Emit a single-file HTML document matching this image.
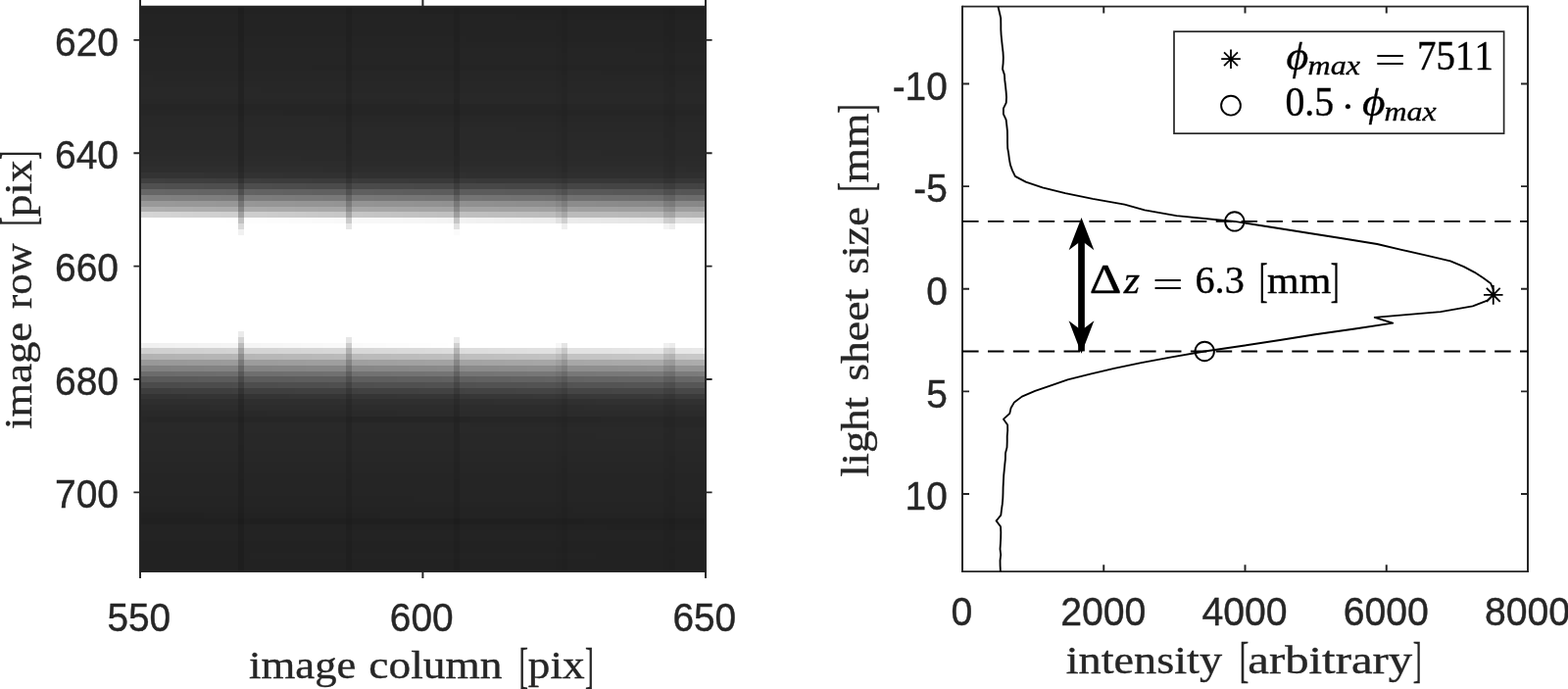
<!DOCTYPE html>
<html lang="en"><head><meta charset="utf-8"><title>Light sheet profile</title>
<style>
html,body{margin:0;padding:0;background:#fff;}
body{width:1600px;height:703px;overflow:hidden;}
svg{display:block;}
.tk{font-family:"Liberation Sans",sans-serif;font-size:40.6px;fill:#262626;stroke:#262626;stroke-width:0.4px;}
.lb{font-family:"Liberation Serif",serif;font-size:42px;fill:#262626;}
.mt{font-family:"Liberation Serif",serif;font-size:41px;fill:#000;}
.it{font-style:italic;}
</style></head><body>
<svg width="1600" height="703" viewBox="0 0 1600 703" role="img" aria-label="Light sheet image and intensity profile">
<rect width="1600" height="703" fill="#fff"/>
<g shape-rendering="crispEdges">
<path fill="#1c1c1c" d="M243 529h6v6h-6zM463 529h6v6h-6z"/>
<path fill="#1d1d1d" d="M243 6h6v2h-6zM353 529h6v6h-6z"/>
<path fill="#1e1e1e" d="M353 6h6v2h-6zM463 6h6v2h-6zM243 8h6v6h-6zM243 523h6v6h-6zM573 529h6v6h-6zM683 529h6v6h-6zM243 552h6v6h-6zM243 558h6v6h-6zM243 564h6v6h-6zM243 570h6v5h-6zM243 575h6v6h-6zM243 581h6v3h-6z"/>
<path fill="#1f1f1f" d="M573 6h6v2h-6zM677 6h12v2h-12zM353 8h6v6h-6zM463 8h6v6h-6zM573 8h6v6h-6zM683 8h6v6h-6zM243 14h6v6h-6zM243 20h6v5h-6zM243 25h6v6h-6zM243 31h6v6h-6zM243 37h6v6h-6zM243 517h6v6h-6zM353 523h6v6h-6zM255 529h98v6h-98zM359 529h104v6h-104zM469 529h104v6h-104zM579 529h17v6h-17zM677 529h6v6h-6zM243 535h6v6h-6zM353 535h6v6h-6zM463 535h6v6h-6zM683 535h6v6h-6zM243 541h6v5h-6zM243 546h6v6h-6zM353 552h6v6h-6zM463 552h6v6h-6zM353 558h6v6h-6zM463 558h6v6h-6zM353 564h6v6h-6zM353 570h6v5h-6zM463 570h6v5h-6zM353 575h6v6h-6zM463 575h6v6h-6zM353 581h6v3h-6zM463 581h6v3h-6z"/>
<path fill="#202020" d="M289 6h64v2h-64zM359 6h104v2h-104zM469 6h104v2h-104zM579 6h98v2h-98zM689 6h32v2h-32zM677 8h6v6h-6zM353 14h6v6h-6zM463 14h6v6h-6zM573 14h6v6h-6zM683 14h6v6h-6zM353 20h6v5h-6zM463 20h6v5h-6zM353 25h6v6h-6zM463 25h6v6h-6zM353 31h6v6h-6zM463 31h6v6h-6zM353 37h6v6h-6zM463 37h6v6h-6zM243 43h6v6h-6zM243 49h6v5h-6zM243 54h6v6h-6zM243 60h6v6h-6zM243 66h6v6h-6zM243 106h6v6h-6zM243 489h6v5h-6zM243 494h6v6h-6zM243 500h6v6h-6zM243 506h6v6h-6zM243 512h6v5h-6zM353 517h6v6h-6zM463 517h6v6h-6zM463 523h6v6h-6zM142 529h101v6h-101zM249 529h6v6h-6zM596 529h81v6h-81zM689 529h32v6h-32zM573 535h6v6h-6zM677 535h6v6h-6zM353 541h6v5h-6zM463 541h6v5h-6zM353 546h6v6h-6zM463 546h6v6h-6zM573 552h6v6h-6zM573 558h6v6h-6zM683 558h6v6h-6zM463 564h6v6h-6zM573 570h6v5h-6zM683 570h6v5h-6zM573 575h6v6h-6zM683 575h6v6h-6zM573 581h6v3h-6zM683 581h6v3h-6z"/>
<path fill="#212121" d="M142 6h101v2h-101zM249 6h40v2h-40zM428 8h35v6h-35zM469 8h104v6h-104zM579 8h98v6h-98zM689 8h32v6h-32zM677 14h6v6h-6zM573 20h6v5h-6zM677 20h12v5h-12zM573 25h6v6h-6zM677 25h12v6h-12zM573 31h6v6h-6zM677 31h12v6h-12zM573 37h6v6h-6zM683 37h6v6h-6zM353 43h6v6h-6zM463 43h6v6h-6zM353 49h6v5h-6zM463 49h6v5h-6zM353 54h6v6h-6zM463 54h6v6h-6zM353 60h6v6h-6zM463 60h6v6h-6zM353 66h6v6h-6zM463 66h6v6h-6zM243 72h6v5h-6zM243 77h6v6h-6zM353 106h6v6h-6zM243 112h6v6h-6zM463 112h6v6h-6zM243 425h6v6h-6zM243 471h6v6h-6zM243 477h6v6h-6zM243 483h6v6h-6zM353 489h6v5h-6zM463 489h6v5h-6zM353 494h6v6h-6zM463 494h6v6h-6zM353 500h6v6h-6zM463 500h6v6h-6zM353 506h6v6h-6zM463 506h6v6h-6zM353 512h6v5h-6zM463 512h6v5h-6zM573 517h6v6h-6zM142 523h66v6h-66zM573 523h6v6h-6zM677 523h12v6h-12zM567 535h6v6h-6zM619 535h58v6h-58zM689 535h32v6h-32zM573 541h6v5h-6zM677 541h12v5h-12zM573 546h6v6h-6zM677 546h12v6h-12zM677 552h12v6h-12zM567 558h6v6h-6zM677 558h6v6h-6zM573 564h6v6h-6zM677 564h12v6h-12zM567 570h6v5h-6zM677 570h6v5h-6zM567 575h6v6h-6zM677 575h6v6h-6zM677 581h6v3h-6z"/>
<path fill="#222222" d="M142 8h101v6h-101zM249 8h104v6h-104zM359 8h69v6h-69zM527 14h46v6h-46zM579 14h98v6h-98zM689 14h32v6h-32zM567 20h6v5h-6zM567 25h6v6h-6zM567 31h6v6h-6zM677 37h6v6h-6zM573 43h6v6h-6zM677 43h12v6h-12zM573 49h6v5h-6zM683 49h6v5h-6zM573 66h6v6h-6zM683 66h6v6h-6zM353 72h6v5h-6zM463 72h6v5h-6zM353 77h6v6h-6zM463 77h6v6h-6zM243 83h6v6h-6zM243 89h6v6h-6zM243 95h6v6h-6zM243 101h6v5h-6zM463 106h6v6h-6zM353 112h6v6h-6zM243 118h6v6h-6zM353 425h6v6h-6zM463 425h6v6h-6zM243 454h6v6h-6zM243 460h6v5h-6zM243 465h6v6h-6zM353 471h6v6h-6zM463 471h6v6h-6zM353 477h6v6h-6zM463 477h6v6h-6zM353 483h6v6h-6zM463 483h6v6h-6zM573 500h6v6h-6zM573 506h6v6h-6zM683 506h6v6h-6zM573 512h6v5h-6zM683 512h6v5h-6zM677 517h12v6h-12zM208 523h35v6h-35zM249 523h104v6h-104zM359 523h29v6h-29zM567 523h6v6h-6zM359 535h104v6h-104zM469 535h98v6h-98zM579 535h40v6h-40zM567 541h6v5h-6zM567 546h6v6h-6zM142 552h101v6h-101zM249 552h104v6h-104zM359 552h104v6h-104zM469 552h104v6h-104zM579 552h98v6h-98zM689 552h32v6h-32zM142 558h101v6h-101zM249 558h104v6h-104zM359 558h104v6h-104zM469 558h98v6h-98zM579 558h98v6h-98zM689 558h32v6h-32zM142 564h101v6h-101zM249 564h6v6h-6zM567 564h6v6h-6zM608 564h69v6h-69zM689 564h32v6h-32zM142 570h101v5h-101zM249 570h104v5h-104zM359 570h104v5h-104zM469 570h98v5h-98zM579 570h98v5h-98zM689 570h32v5h-32zM142 575h101v6h-101zM249 575h104v6h-104zM359 575h104v6h-104zM469 575h98v6h-98zM579 575h98v6h-98zM689 575h32v6h-32zM142 581h101v3h-101zM249 581h104v3h-104zM359 581h104v3h-104zM469 581h104v3h-104zM579 581h98v3h-98zM689 581h32v3h-32z"/>
<path fill="#232323" d="M142 14h101v6h-101zM249 14h104v6h-104zM359 14h104v6h-104zM469 14h58v6h-58zM142 20h101v5h-101zM249 20h104v5h-104zM359 20h104v5h-104zM469 20h98v5h-98zM579 20h98v5h-98zM689 20h32v5h-32zM142 25h101v6h-101zM249 25h104v6h-104zM359 25h104v6h-104zM469 25h98v6h-98zM579 25h98v6h-98zM689 25h32v6h-32zM142 31h101v6h-101zM249 31h104v6h-104zM359 31h104v6h-104zM469 31h98v6h-98zM579 31h98v6h-98zM689 31h32v6h-32zM475 37h98v6h-98zM579 37h98v6h-98zM689 37h32v6h-32zM567 43h6v6h-6zM677 49h6v5h-6zM573 54h6v6h-6zM677 54h12v6h-12zM573 60h6v6h-6zM677 60h12v6h-12zM567 66h6v6h-6zM677 66h6v6h-6zM573 72h6v5h-6zM683 72h6v5h-6zM353 83h6v6h-6zM463 83h6v6h-6zM353 89h6v6h-6zM463 89h6v6h-6zM353 101h6v5h-6zM463 101h6v5h-6zM573 106h6v6h-6zM573 112h6v6h-6zM677 112h12v6h-12zM353 118h6v6h-6zM463 118h6v6h-6zM243 124h6v6h-6zM243 130h6v5h-6zM243 135h6v6h-6zM243 141h6v6h-6zM243 147h6v6h-6zM243 431h6v5h-6zM243 436h6v6h-6zM243 442h6v6h-6zM243 448h6v6h-6zM353 460h6v5h-6zM463 460h6v5h-6zM353 465h6v6h-6zM463 465h6v6h-6zM573 477h6v6h-6zM573 483h6v6h-6zM683 483h6v6h-6zM573 489h6v5h-6zM677 489h12v5h-12zM573 494h6v6h-6zM677 494h12v6h-12zM677 500h12v6h-12zM677 506h6v6h-6zM567 512h6v5h-6zM677 512h6v5h-6zM142 517h101v6h-101zM249 517h104v6h-104zM359 517h104v6h-104zM469 517h104v6h-104zM579 517h6v6h-6zM388 523h75v6h-75zM469 523h98v6h-98zM579 523h98v6h-98zM689 523h32v6h-32zM142 535h101v6h-101zM249 535h104v6h-104zM142 541h101v5h-101zM249 541h104v5h-104zM359 541h104v5h-104zM469 541h98v5h-98zM579 541h98v5h-98zM689 541h32v5h-32zM142 546h101v6h-101zM249 546h104v6h-104zM359 546h104v6h-104zM469 546h98v6h-98zM579 546h98v6h-98zM689 546h32v6h-32zM255 564h98v6h-98zM359 564h104v6h-104zM469 564h98v6h-98zM579 564h29v6h-29z"/>
<path fill="#242424" d="M142 37h101v6h-101zM249 37h104v6h-104zM359 37h104v6h-104zM469 37h6v6h-6zM142 43h101v6h-101zM249 43h104v6h-104zM359 43h104v6h-104zM469 43h98v6h-98zM579 43h98v6h-98zM689 43h32v6h-32zM567 49h6v5h-6zM648 49h29v5h-29zM689 49h32v5h-32zM567 54h6v6h-6zM567 60h6v6h-6zM318 66h35v6h-35zM359 66h104v6h-104zM469 66h98v6h-98zM579 66h98v6h-98zM689 66h32v6h-32zM677 72h6v5h-6zM573 77h6v6h-6zM677 77h12v6h-12zM573 83h6v6h-6zM683 83h6v6h-6zM353 95h6v6h-6zM463 95h6v6h-6zM677 106h12v6h-12zM567 112h6v6h-6zM573 118h6v6h-6zM683 118h6v6h-6zM353 124h6v6h-6zM463 124h6v6h-6zM353 130h6v5h-6zM463 130h6v5h-6zM353 135h6v6h-6zM463 135h6v6h-6zM353 141h6v6h-6zM463 141h6v6h-6zM463 147h6v6h-6zM243 153h6v6h-6zM243 159h6v5h-6zM243 419h6v6h-6zM573 425h6v6h-6zM353 431h6v5h-6zM463 431h6v5h-6zM353 436h6v6h-6zM463 436h6v6h-6zM353 442h6v6h-6zM463 442h6v6h-6zM353 448h6v6h-6zM463 448h6v6h-6zM353 454h6v6h-6zM463 454h6v6h-6zM573 465h6v6h-6zM683 465h6v6h-6zM573 471h6v6h-6zM683 471h6v6h-6zM677 477h12v6h-12zM567 483h6v6h-6zM677 483h6v6h-6zM567 489h6v5h-6zM567 494h6v6h-6zM567 500h6v6h-6zM142 506h101v6h-101zM249 506h104v6h-104zM359 506h63v6h-63zM567 506h6v6h-6zM142 512h101v5h-101zM249 512h104v5h-104zM359 512h104v5h-104zM469 512h98v5h-98zM579 512h98v5h-98zM689 512h32v5h-32zM585 517h92v6h-92zM689 517h32v6h-32z"/>
<path fill="#252525" d="M142 49h101v5h-101zM249 49h104v5h-104zM359 49h104v5h-104zM469 49h98v5h-98zM579 49h69v5h-69zM142 54h101v6h-101zM249 54h104v6h-104zM359 54h104v6h-104zM469 54h98v6h-98zM579 54h98v6h-98zM689 54h32v6h-32zM142 60h101v6h-101zM249 60h104v6h-104zM359 60h104v6h-104zM469 60h98v6h-98zM579 60h98v6h-98zM689 60h32v6h-32zM142 66h101v6h-101zM249 66h69v6h-69zM567 72h6v5h-6zM613 72h64v5h-64zM689 72h32v5h-32zM567 77h6v6h-6zM677 83h6v6h-6zM573 89h6v6h-6zM677 89h12v6h-12zM573 95h6v6h-6zM683 95h6v6h-6zM573 101h6v5h-6zM683 101h6v5h-6zM142 106h101v6h-101zM249 106h104v6h-104zM359 106h104v6h-104zM469 106h104v6h-104zM289 112h64v6h-64zM359 112h104v6h-104zM469 112h98v6h-98zM579 112h98v6h-98zM689 112h32v6h-32zM677 118h6v6h-6zM573 124h6v6h-6zM683 124h6v6h-6zM353 147h6v6h-6zM353 153h6v6h-6zM463 153h6v6h-6zM243 164h6v6h-6zM243 413h6v6h-6zM359 425h104v6h-104zM469 425h11v6h-11zM567 425h6v6h-6zM677 425h12v6h-12zM573 431h6v5h-6zM677 431h12v5h-12zM573 460h6v5h-6zM677 460h12v5h-12zM677 465h6v6h-6zM567 471h6v6h-6zM677 471h6v6h-6zM567 477h6v6h-6zM142 483h101v6h-101zM249 483h104v6h-104zM359 483h104v6h-104zM469 483h98v6h-98zM579 483h98v6h-98zM689 483h32v6h-32zM142 489h101v5h-101zM249 489h104v5h-104zM359 489h104v5h-104zM469 489h98v5h-98zM579 489h98v5h-98zM689 489h32v5h-32zM142 494h101v6h-101zM249 494h104v6h-104zM359 494h104v6h-104zM469 494h98v6h-98zM579 494h98v6h-98zM689 494h32v6h-32zM142 500h101v6h-101zM249 500h104v6h-104zM359 500h104v6h-104zM469 500h98v6h-98zM579 500h98v6h-98zM689 500h32v6h-32zM422 506h41v6h-41zM469 506h98v6h-98zM579 506h98v6h-98zM689 506h32v6h-32z"/>
<path fill="#262626" d="M142 72h101v5h-101zM249 72h104v5h-104zM359 72h104v5h-104zM469 72h98v5h-98zM579 72h34v5h-34zM156 77h87v6h-87zM249 77h104v6h-104zM359 77h104v6h-104zM469 77h98v6h-98zM579 77h98v6h-98zM689 77h32v6h-32zM567 83h6v6h-6zM567 89h6v6h-6zM677 95h6v6h-6zM677 101h6v5h-6zM579 106h98v6h-98zM689 106h32v6h-32zM142 112h101v6h-101zM249 112h40v6h-40zM567 118h6v6h-6zM718 118h3v6h-3zM677 124h6v6h-6zM573 130h6v5h-6zM677 130h12v5h-12zM573 135h6v6h-6zM677 135h12v6h-12zM573 141h6v6h-6zM683 141h6v6h-6zM573 147h6v6h-6zM683 147h6v6h-6zM353 159h6v5h-6zM463 159h6v5h-6zM463 164h6v6h-6zM353 419h6v6h-6zM463 419h6v6h-6zM150 425h93v6h-93zM249 425h104v6h-104zM480 425h87v6h-87zM579 425h34v6h-34zM573 436h6v6h-6zM683 436h6v6h-6zM573 442h6v6h-6zM677 442h12v6h-12zM573 448h6v6h-6zM677 448h12v6h-12zM573 454h6v6h-6zM677 454h12v6h-12zM567 460h6v5h-6zM567 465h6v6h-6zM142 471h101v6h-101zM249 471h104v6h-104zM359 471h104v6h-104zM469 471h98v6h-98zM579 471h98v6h-98zM689 471h32v6h-32zM142 477h101v6h-101zM249 477h104v6h-104zM359 477h104v6h-104zM469 477h98v6h-98zM579 477h98v6h-98zM689 477h32v6h-32z"/>
<path fill="#272727" d="M142 77h14v6h-14zM142 83h101v6h-101zM249 83h104v6h-104zM359 83h104v6h-104zM469 83h98v6h-98zM579 83h98v6h-98zM689 83h32v6h-32zM266 89h87v6h-87zM359 89h104v6h-104zM469 89h98v6h-98zM579 89h98v6h-98zM689 89h32v6h-32zM567 95h6v6h-6zM142 101h101v5h-101zM249 101h104v5h-104zM359 101h69v5h-69zM567 101h6v5h-6zM336 118h17v6h-17zM359 118h104v6h-104zM469 118h98v6h-98zM579 118h98v6h-98zM689 118h29v6h-29zM567 124h6v6h-6zM567 130h6v5h-6zM677 141h6v6h-6zM677 147h6v6h-6zM573 153h6v6h-6zM677 153h12v6h-12zM573 159h6v5h-6zM683 159h6v5h-6zM353 164h6v6h-6zM243 170h6v6h-6zM243 407h6v6h-6zM353 413h6v6h-6zM463 413h6v6h-6zM142 425h8v6h-8zM613 425h64v6h-64zM689 425h32v6h-32zM567 431h6v5h-6zM689 431h32v5h-32zM677 436h6v6h-6zM567 442h6v6h-6zM567 448h6v6h-6zM567 454h6v6h-6zM142 460h101v5h-101zM249 460h104v5h-104zM359 460h104v5h-104zM469 460h98v5h-98zM579 460h98v5h-98zM689 460h32v5h-32zM142 465h101v6h-101zM249 465h104v6h-104zM359 465h104v6h-104zM469 465h98v6h-98zM579 465h98v6h-98zM689 465h32v6h-32z"/>
<path fill="#282828" d="M142 89h101v6h-101zM249 89h17v6h-17zM142 95h101v6h-101zM249 95h104v6h-104zM359 95h104v6h-104zM469 95h98v6h-98zM579 95h98v6h-98zM689 95h32v6h-32zM428 101h35v5h-35zM469 101h98v5h-98zM579 101h98v5h-98zM689 101h32v5h-32zM142 118h101v6h-101zM249 118h87v6h-87zM142 124h101v6h-101zM249 124h104v6h-104zM359 124h104v6h-104zM469 124h98v6h-98zM579 124h98v6h-98zM689 124h32v6h-32zM527 130h40v5h-40zM579 130h98v5h-98zM689 130h32v5h-32zM567 135h6v6h-6zM567 141h6v6h-6zM567 147h6v6h-6zM567 153h6v6h-6zM677 159h6v5h-6zM573 164h6v6h-6zM683 164h6v6h-6zM353 170h6v6h-6zM463 170h6v6h-6zM573 419h6v6h-6zM683 419h6v6h-6zM480 431h87v5h-87zM579 431h98v5h-98zM567 436h6v6h-6zM142 442h101v6h-101zM249 442h104v6h-104zM359 442h104v6h-104zM469 442h98v6h-98zM579 442h29v6h-29zM142 448h101v6h-101zM249 448h104v6h-104zM359 448h104v6h-104zM469 448h98v6h-98zM579 448h98v6h-98zM689 448h32v6h-32zM142 454h101v6h-101zM249 454h104v6h-104zM359 454h104v6h-104zM469 454h98v6h-98zM579 454h98v6h-98zM689 454h32v6h-32z"/>
<path fill="#292929" d="M142 130h101v5h-101zM249 130h104v5h-104zM359 130h104v5h-104zM469 130h58v5h-58zM142 135h101v6h-101zM249 135h104v6h-104zM359 135h104v6h-104zM469 135h98v6h-98zM579 135h98v6h-98zM689 135h32v6h-32zM142 141h101v6h-101zM249 141h104v6h-104zM359 141h104v6h-104zM469 141h98v6h-98zM579 141h98v6h-98zM689 141h32v6h-32zM142 147h101v6h-101zM249 147h104v6h-104zM359 147h104v6h-104zM469 147h98v6h-98zM579 147h98v6h-98zM689 147h32v6h-32zM613 153h64v6h-64zM689 153h32v6h-32zM567 159h6v5h-6zM677 164h6v6h-6zM573 170h6v6h-6zM683 170h6v6h-6zM353 407h6v6h-6zM573 413h6v6h-6zM142 419h101v6h-101zM249 419h23v6h-23zM677 419h6v6h-6zM142 431h101v5h-101zM249 431h104v5h-104zM359 431h104v5h-104zM469 431h11v5h-11zM142 436h101v6h-101zM249 436h104v6h-104zM359 436h104v6h-104zM469 436h98v6h-98zM579 436h98v6h-98zM689 436h32v6h-32zM608 442h69v6h-69zM689 442h32v6h-32z"/>
<path fill="#2a2a2a" d="M142 153h101v6h-101zM249 153h104v6h-104zM359 153h104v6h-104zM469 153h98v6h-98zM579 153h34v6h-34zM307 159h46v5h-46zM359 159h104v5h-104zM469 159h98v5h-98zM579 159h98v5h-98zM689 159h32v5h-32zM567 164h6v6h-6zM677 170h6v6h-6zM243 176h6v6h-6zM463 176h6v6h-6zM463 407h6v6h-6zM677 413h12v6h-12zM272 419h81v6h-81zM359 419h46v6h-46zM567 419h6v6h-6z"/>
<path fill="#2b2b2b" d="M142 159h101v5h-101zM249 159h58v5h-58zM359 164h104v6h-104zM469 164h98v6h-98zM579 164h98v6h-98zM689 164h32v6h-32zM353 176h6v6h-6zM683 176h6v6h-6zM243 402h6v5h-6zM142 413h72v6h-72zM567 413h6v6h-6zM405 419h58v6h-58zM469 419h98v6h-98zM579 419h98v6h-98zM689 419h32v6h-32z"/>
<path fill="#2c2c2c" d="M142 164h101v6h-101zM249 164h104v6h-104zM567 170h6v6h-6zM700 170h21v6h-21zM573 176h6v6h-6zM677 176h6v6h-6zM573 407h6v6h-6zM214 413h29v6h-29zM249 413h104v6h-104zM359 413h104v6h-104zM469 413h98v6h-98zM579 413h17v6h-17z"/>
<path fill="#2d2d2d" d="M330 170h23v6h-23zM359 170h104v6h-104zM469 170h98v6h-98zM579 170h98v6h-98zM689 170h11v6h-11zM596 413h81v6h-81zM689 413h32v6h-32z"/>
<path fill="#2e2e2e" d="M142 170h101v6h-101zM249 170h81v6h-81zM567 176h6v6h-6zM353 402h6v5h-6zM142 407h101v6h-101zM249 407h98v6h-98zM677 407h12v6h-12z"/>
<path fill="#2f2f2f" d="M475 176h92v6h-92zM579 176h98v6h-98zM689 176h32v6h-32zM463 402h6v5h-6zM347 407h6v6h-6zM359 407h104v6h-104zM469 407h35v6h-35zM567 407h6v6h-6z"/>
<path fill="#303030" d="M365 176h98v6h-98zM469 176h6v6h-6zM504 407h63v6h-63zM579 407h29v6h-29z"/>
<path fill="#313131" d="M289 176h64v6h-64zM359 176h6v6h-6zM463 182h6v5h-6zM608 407h69v6h-69zM689 407h29v6h-29z"/>
<path fill="#323232" d="M208 176h35v6h-35zM249 176h40v6h-40zM243 182h6v5h-6zM677 182h12v5h-12zM718 407h3v6h-3z"/>
<path fill="#333333" d="M142 176h66v6h-66zM353 182h6v5h-6zM573 182h6v5h-6zM243 396h6v6h-6zM142 402h49v5h-49zM573 402h6v5h-6z"/>
<path fill="#343434" d="M191 402h52v5h-52zM249 402h46v5h-46z"/>
<path fill="#353535" d="M718 182h3v5h-3zM295 402h58v5h-58zM359 402h46v5h-46zM683 402h6v5h-6z"/>
<path fill="#363636" d="M567 182h6v5h-6zM642 182h35v5h-35zM689 182h29v5h-29zM405 402h58v5h-58zM469 402h11v5h-11zM567 402h6v5h-6zM677 402h6v5h-6z"/>
<path fill="#373737" d="M561 182h6v5h-6zM579 182h63v5h-63zM353 396h6v6h-6zM480 402h64v5h-64z"/>
<path fill="#383838" d="M486 182h75v5h-75zM544 402h23v5h-23zM579 402h23v5h-23z"/>
<path fill="#393939" d="M417 182h46v5h-46zM469 182h17v5h-17zM463 396h6v6h-6zM602 402h64v5h-64z"/>
<path fill="#3a3a3a" d="M365 182h52v5h-52zM666 402h11v5h-11zM689 402h32v5h-32z"/>
<path fill="#3b3b3b" d="M318 182h35v5h-35zM359 182h6v5h-6z"/>
<path fill="#3c3c3c" d="M266 182h52v5h-52z"/>
<path fill="#3d3d3d" d="M220 182h23v5h-23zM249 182h17v5h-17zM463 187h6v6h-6zM683 187h6v6h-6zM142 396h32v6h-32z"/>
<path fill="#3e3e3e" d="M168 182h52v5h-52zM243 187h6v6h-6zM677 187h6v6h-6zM243 390h6v6h-6zM174 396h63v6h-63zM573 396h6v6h-6z"/>
<path fill="#3f3f3f" d="M142 182h26v5h-26zM353 187h6v6h-6zM573 187h6v6h-6zM237 396h6v6h-6zM249 396h52v6h-52z"/>
<path fill="#404040" d="M301 396h52v6h-52zM359 396h6v6h-6zM683 396h6v6h-6z"/>
<path fill="#414141" d="M365 396h63v6h-63zM677 396h6v6h-6z"/>
<path fill="#424242" d="M712 187h9v6h-9zM428 396h35v6h-35zM469 396h6v6h-6zM567 396h6v6h-6z"/>
<path fill="#434343" d="M567 187h6v6h-6zM666 187h11v6h-11zM689 187h23v6h-23zM353 390h6v6h-6zM475 396h52v6h-52z"/>
<path fill="#444444" d="M613 187h53v6h-53zM527 396h40v6h-40z"/>
<path fill="#454545" d="M579 187h34v6h-34zM463 390h6v6h-6zM579 396h46v6h-46z"/>
<path fill="#464646" d="M515 187h52v6h-52zM625 396h52v6h-52z"/>
<path fill="#474747" d="M469 187h46v6h-46zM689 396h32v6h-32z"/>
<path fill="#484848" d="M422 187h41v6h-41z"/>
<path fill="#494949" d="M388 187h34v6h-34zM243 384h6v6h-6z"/>
<path fill="#4a4a4a" d="M359 187h29v6h-29z"/>
<path fill="#4b4b4b" d="M312 187h41v6h-41zM142 390h43v6h-43zM573 390h6v6h-6z"/>
<path fill="#4c4c4c" d="M278 187h34v6h-34zM185 390h52v6h-52z"/>
<path fill="#4d4d4d" d="M249 187h29v6h-29zM463 193h6v6h-6zM237 390h6v6h-6zM249 390h35v6h-35zM683 390h6v6h-6z"/>
<path fill="#4e4e4e" d="M208 187h35v6h-35zM243 193h6v6h-6zM683 193h6v6h-6zM284 390h52v6h-52z"/>
<path fill="#4f4f4f" d="M168 187h40v6h-40zM677 193h6v6h-6zM353 384h6v6h-6zM336 390h17v6h-17zM359 390h23v6h-23zM677 390h6v6h-6z"/>
<path fill="#505050" d="M142 187h26v6h-26zM353 193h6v6h-6zM573 193h6v6h-6zM382 390h52v6h-52zM567 390h6v6h-6z"/>
<path fill="#515151" d="M463 384h6v6h-6zM434 390h29v6h-29zM469 390h17v6h-17z"/>
<path fill="#525252" d="M486 390h52v6h-52z"/>
<path fill="#535353" d="M538 390h29v6h-29zM579 390h6v6h-6z"/>
<path fill="#545454" d="M585 390h52v6h-52z"/>
<path fill="#555555" d="M567 193h6v6h-6zM695 193h26v6h-26zM637 390h40v6h-40z"/>
<path fill="#565656" d="M660 193h17v6h-17zM689 193h6v6h-6zM689 390h32v6h-32z"/>
<path fill="#575757" d="M625 193h35v6h-35zM243 379h6v5h-6z"/>
<path fill="#585858" d="M585 193h40v6h-40z"/>
<path fill="#595959" d="M550 193h17v6h-17zM579 193h6v6h-6zM142 384h8v6h-8zM573 384h6v6h-6z"/>
<path fill="#5a5a5a" d="M515 193h35v6h-35zM150 384h52v6h-52z"/>
<path fill="#5b5b5b" d="M480 193h35v6h-35zM202 384h41v6h-41zM249 384h6v6h-6z"/>
<path fill="#5c5c5c" d="M440 193h23v6h-23zM469 193h11v6h-11zM255 384h46v6h-46zM683 384h6v6h-6z"/>
<path fill="#5d5d5d" d="M411 193h29v6h-29zM301 384h52v6h-52z"/>
<path fill="#5e5e5e" d="M382 193h29v6h-29zM353 379h6v5h-6zM359 384h46v6h-46zM677 384h6v6h-6z"/>
<path fill="#5f5f5f" d="M359 193h23v6h-23zM405 384h46v6h-46zM567 384h6v6h-6z"/>
<path fill="#606060" d="M318 193h35v6h-35zM451 384h12v6h-12zM469 384h17v6h-17z"/>
<path fill="#616161" d="M289 193h29v6h-29zM243 199h6v6h-6zM463 199h6v6h-6zM463 379h6v5h-6zM486 384h35v6h-35z"/>
<path fill="#626262" d="M260 193h29v6h-29zM683 199h6v6h-6zM521 384h35v6h-35z"/>
<path fill="#636363" d="M231 193h12v6h-12zM249 193h11v6h-11zM556 384h11v6h-11zM579 384h17v6h-17z"/>
<path fill="#646464" d="M202 193h29v6h-29zM353 199h6v6h-6zM677 199h6v6h-6zM596 384h35v6h-35z"/>
<path fill="#656565" d="M168 193h34v6h-34zM573 199h6v6h-6zM631 384h35v6h-35z"/>
<path fill="#666666" d="M142 193h26v6h-26zM243 373h6v6h-6zM666 384h11v6h-11zM689 384h17v6h-17z"/>
<path fill="#676767" d="M706 384h15v6h-15z"/>
<path fill="#6b6b6b" d="M142 379h3v5h-3zM573 379h6v5h-6z"/>
<path fill="#6c6c6c" d="M567 199h6v6h-6zM700 199h21v6h-21zM145 379h34v5h-34z"/>
<path fill="#6d6d6d" d="M671 199h6v6h-6zM689 199h11v6h-11zM179 379h41v5h-41z"/>
<path fill="#6e6e6e" d="M642 199h29v6h-29zM220 379h23v5h-23zM249 379h6v5h-6zM683 379h6v5h-6z"/>
<path fill="#6f6f6f" d="M613 199h29v6h-29zM255 379h34v5h-34z"/>
<path fill="#707070" d="M585 199h28v6h-28zM353 373h6v6h-6zM289 379h41v5h-41zM677 379h6v5h-6z"/>
<path fill="#717171" d="M556 199h11v6h-11zM579 199h6v6h-6zM330 379h23v5h-23zM359 379h6v5h-6z"/>
<path fill="#727272" d="M521 199h35v6h-35zM463 373h6v6h-6zM365 379h34v5h-34zM567 379h6v5h-6z"/>
<path fill="#737373" d="M492 199h29v6h-29zM399 379h35v5h-35z"/>
<path fill="#747474" d="M469 199h23v6h-23zM434 379h29v5h-29z"/>
<path fill="#757575" d="M434 199h29v6h-29zM243 205h6v6h-6zM469 379h35v5h-35z"/>
<path fill="#767676" d="M405 199h29v6h-29zM504 379h34v5h-34z"/>
<path fill="#777777" d="M382 199h23v6h-23zM538 379h29v5h-29z"/>
<path fill="#787878" d="M359 199h23v6h-23zM463 205h6v6h-6zM243 367h6v6h-6zM579 379h29v5h-29z"/>
<path fill="#797979" d="M330 199h23v6h-23zM608 379h34v5h-34z"/>
<path fill="#7a7a7a" d="M301 199h29v6h-29zM353 205h6v6h-6zM683 205h6v6h-6zM642 379h35v5h-35z"/>
<path fill="#7b7b7b" d="M278 199h23v6h-23zM689 379h23v5h-23z"/>
<path fill="#7c7c7c" d="M255 199h23v6h-23zM712 379h9v5h-9z"/>
<path fill="#7d7d7d" d="M226 199h17v6h-17zM249 199h6v6h-6zM573 205h6v6h-6zM677 205h6v6h-6z"/>
<path fill="#7e7e7e" d="M202 199h24v6h-24zM573 373h6v6h-6z"/>
<path fill="#7f7f7f" d="M174 199h28v6h-28z"/>
<path fill="#808080" d="M150 199h24v6h-24z"/>
<path fill="#818181" d="M142 199h8v6h-8zM142 373h32v6h-32z"/>
<path fill="#828282" d="M174 373h34v6h-34zM683 373h6v6h-6z"/>
<path fill="#838383" d="M353 367h6v6h-6zM208 373h35v6h-35z"/>
<path fill="#848484" d="M243 211h6v5h-6zM249 373h29v6h-29z"/>
<path fill="#858585" d="M278 373h34v6h-34zM677 373h6v6h-6z"/>
<path fill="#868686" d="M463 367h6v6h-6zM312 373h35v6h-35z"/>
<path fill="#878787" d="M567 205h6v6h-6zM712 205h9v6h-9zM463 211h6v5h-6zM347 373h6v6h-6zM359 373h23v6h-23zM567 373h6v6h-6z"/>
<path fill="#888888" d="M689 205h23v6h-23zM382 373h35v6h-35z"/>
<path fill="#898989" d="M660 205h17v6h-17zM417 373h29v6h-29z"/>
<path fill="#8a8a8a" d="M631 205h29v6h-29zM353 211h6v5h-6zM446 373h17v6h-17zM469 373h6v6h-6z"/>
<path fill="#8b8b8b" d="M608 205h23v6h-23zM475 373h34v6h-34z"/>
<path fill="#8c8c8c" d="M579 205h29v6h-29zM243 361h6v6h-6zM509 373h29v6h-29z"/>
<path fill="#8d8d8d" d="M556 205h11v6h-11zM683 211h6v5h-6zM538 373h29v6h-29z"/>
<path fill="#8e8e8e" d="M527 205h29v6h-29zM573 211h6v5h-6zM579 373h23v6h-23z"/>
<path fill="#8f8f8f" d="M504 205h23v6h-23zM602 373h29v6h-29z"/>
<path fill="#909090" d="M475 205h29v6h-29zM677 211h6v5h-6zM631 373h29v6h-29z"/>
<path fill="#919191" d="M451 205h12v6h-12zM469 205h6v6h-6zM660 373h17v6h-17z"/>
<path fill="#929292" d="M422 205h29v6h-29zM689 373h32v6h-32z"/>
<path fill="#939393" d="M382 205h40v6h-40zM573 367h6v6h-6z"/>
<path fill="#949494" d="M341 205h12v6h-12zM359 205h23v6h-23z"/>
<path fill="#959595" d="M301 205h40v6h-40z"/>
<path fill="#969696" d="M260 205h41v6h-41z"/>
<path fill="#979797" d="M220 205h23v6h-23zM249 205h11v6h-11z"/>
<path fill="#989898" d="M179 205h41v6h-41zM142 367h20v6h-20z"/>
<path fill="#999999" d="M142 205h37v6h-37zM353 361h6v6h-6zM162 367h29v6h-29zM683 367h6v6h-6z"/>
<path fill="#9a9a9a" d="M567 211h6v5h-6zM191 367h35v6h-35z"/>
<path fill="#9b9b9b" d="M226 367h17v6h-17zM249 367h6v6h-6zM677 367h6v6h-6z"/>
<path fill="#9c9c9c" d="M463 361h6v6h-6zM255 367h29v6h-29z"/>
<path fill="#9d9d9d" d="M712 211h9v5h-9zM463 216h6v6h-6zM284 367h28v6h-28z"/>
<path fill="#9e9e9e" d="M671 211h6v5h-6zM689 211h23v5h-23zM243 216h6v6h-6zM312 367h35v6h-35z"/>
<path fill="#9f9f9f" d="M631 211h40v5h-40zM347 367h6v6h-6zM359 367h17v6h-17zM567 367h6v6h-6z"/>
<path fill="#a0a0a0" d="M590 211h41v5h-41zM376 367h29v6h-29z"/>
<path fill="#a1a1a1" d="M550 211h17v5h-17zM579 211h11v5h-11zM243 355h6v6h-6zM405 367h29v6h-29z"/>
<path fill="#a2a2a2" d="M509 211h41v5h-41zM434 367h29v6h-29z"/>
<path fill="#a3a3a3" d="M469 211h40v5h-40zM353 216h6v6h-6zM469 367h23v6h-23z"/>
<path fill="#a4a4a4" d="M428 211h35v5h-35zM683 216h6v6h-6zM492 367h23v6h-23z"/>
<path fill="#a5a5a5" d="M405 211h23v5h-23zM515 367h29v6h-29z"/>
<path fill="#a6a6a6" d="M376 211h29v5h-29zM573 216h6v6h-6zM544 367h23v6h-23z"/>
<path fill="#a7a7a7" d="M359 211h17v5h-17zM677 216h6v6h-6zM579 367h17v6h-17z"/>
<path fill="#a8a8a8" d="M324 211h29v5h-29zM596 367h29v6h-29z"/>
<path fill="#a9a9a9" d="M301 211h23v5h-23zM625 367h29v6h-29z"/>
<path fill="#aaaaaa" d="M272 211h29v5h-29zM654 367h23v6h-23z"/>
<path fill="#ababab" d="M249 211h23v5h-23zM689 367h17v6h-17z"/>
<path fill="#acacac" d="M220 211h23v5h-23zM573 361h6v6h-6zM706 367h15v6h-15z"/>
<path fill="#adadad" d="M197 211h23v5h-23z"/>
<path fill="#aeaeae" d="M168 211h29v5h-29z"/>
<path fill="#afafaf" d="M145 211h23v5h-23z"/>
<path fill="#b0b0b0" d="M142 211h3v5h-3zM353 355h6v6h-6z"/>
<path fill="#b1b1b1" d="M683 361h6v6h-6z"/>
<path fill="#b2b2b2" d="M142 361h14v6h-14z"/>
<path fill="#b3b3b3" d="M567 216h6v6h-6zM156 361h23v6h-23z"/>
<path fill="#b4b4b4" d="M463 355h6v6h-6zM179 361h29v6h-29z"/>
<path fill="#b5b5b5" d="M208 361h29v6h-29zM677 361h6v6h-6z"/>
<path fill="#b6b6b6" d="M706 216h15v6h-15zM237 361h6v6h-6zM249 361h11v6h-11z"/>
<path fill="#b7b7b7" d="M689 216h17v6h-17zM260 361h29v6h-29z"/>
<path fill="#b8b8b8" d="M654 216h23v6h-23zM289 361h29v6h-29z"/>
<path fill="#b9b9b9" d="M631 216h23v6h-23zM318 361h23v6h-23z"/>
<path fill="#bababa" d="M602 216h29v6h-29zM243 350h6v5h-6zM341 361h12v6h-12zM359 361h11v6h-11zM567 361h6v6h-6z"/>
<path fill="#bbbbbb" d="M579 216h23v6h-23zM370 361h29v6h-29z"/>
<path fill="#bcbcbc" d="M550 216h17v6h-17zM399 361h29v6h-29z"/>
<path fill="#bdbdbd" d="M527 216h23v6h-23zM428 361h23v6h-23z"/>
<path fill="#bebebe" d="M498 216h29v6h-29zM451 361h12v6h-12zM469 361h6v6h-6z"/>
<path fill="#bfbfbf" d="M475 216h23v6h-23zM475 361h29v6h-29z"/>
<path fill="#c0c0c0" d="M446 216h17v6h-17zM469 216h6v6h-6zM504 361h23v6h-23z"/>
<path fill="#c1c1c1" d="M428 216h18v6h-18zM243 222h6v6h-6zM527 361h23v6h-23z"/>
<path fill="#c2c2c2" d="M411 216h17v6h-17zM550 361h17v6h-17z"/>
<path fill="#c3c3c3" d="M399 216h12v6h-12zM579 361h23v6h-23z"/>
<path fill="#c4c4c4" d="M382 216h17v6h-17zM602 361h23v6h-23z"/>
<path fill="#c5c5c5" d="M370 216h12v6h-12zM625 361h23v6h-23z"/>
<path fill="#c6c6c6" d="M359 216h11v6h-11zM463 222h6v6h-6zM573 355h6v6h-6zM648 361h29v6h-29z"/>
<path fill="#c7c7c7" d="M341 216h12v6h-12zM689 361h11v6h-11z"/>
<path fill="#c8c8c8" d="M324 216h17v6h-17zM700 361h21v6h-21z"/>
<path fill="#c9c9c9" d="M312 216h12v6h-12z"/>
<path fill="#cacaca" d="M301 216h11v6h-11z"/>
<path fill="#cbcbcb" d="M284 216h17v6h-17zM353 222h6v6h-6zM683 222h6v6h-6z"/>
<path fill="#cccccc" d="M272 216h12v6h-12zM353 350h6v5h-6z"/>
<path fill="#cdcdcd" d="M255 216h17v6h-17zM683 355h6v6h-6z"/>
<path fill="#cecece" d="M249 216h6v6h-6z"/>
<path fill="#cfcfcf" d="M226 216h17v6h-17zM573 222h6v6h-6zM677 222h6v6h-6zM142 355h14v6h-14z"/>
<path fill="#d0d0d0" d="M214 216h12v6h-12zM463 350h6v5h-6zM156 355h23v6h-23z"/>
<path fill="#d1d1d1" d="M197 216h17v6h-17zM179 355h29v6h-29zM677 355h6v6h-6z"/>
<path fill="#d2d2d2" d="M185 216h12v6h-12zM208 355h23v6h-23z"/>
<path fill="#d3d3d3" d="M174 216h11v6h-11zM243 344h6v6h-6zM231 355h12v6h-12zM249 355h6v6h-6z"/>
<path fill="#d4d4d4" d="M156 216h18v6h-18zM255 355h29v6h-29z"/>
<path fill="#d5d5d5" d="M145 216h11v6h-11zM284 355h23v6h-23z"/>
<path fill="#d6d6d6" d="M142 216h3v6h-3zM307 355h23v6h-23z"/>
<path fill="#d7d7d7" d="M330 355h23v6h-23zM567 355h6v6h-6z"/>
<path fill="#d8d8d8" d="M359 355h23v6h-23z"/>
<path fill="#d9d9d9" d="M243 228h6v6h-6zM382 355h23v6h-23z"/>
<path fill="#dadada" d="M405 355h29v6h-29z"/>
<path fill="#dbdbdb" d="M434 355h17v6h-17z"/>
<path fill="#dcdcdc" d="M451 355h12v6h-12zM469 355h6v6h-6z"/>
<path fill="#dddddd" d="M475 355h23v6h-23z"/>
<path fill="#dedede" d="M498 355h17v6h-17z"/>
<path fill="#dfdfdf" d="M515 355h23v6h-23z"/>
<path fill="#e0e0e0" d="M538 355h23v6h-23z"/>
<path fill="#e1e1e1" d="M567 222h6v6h-6zM718 222h3v6h-3zM463 228h6v6h-6zM561 355h6v6h-6z"/>
<path fill="#e2e2e2" d="M700 222h18v6h-18zM579 355h23v6h-23z"/>
<path fill="#e3e3e3" d="M689 222h11v6h-11zM602 355h23v6h-23z"/>
<path fill="#e4e4e4" d="M671 222h6v6h-6zM573 350h6v5h-6zM625 355h17v6h-17z"/>
<path fill="#e5e5e5" d="M660 222h11v6h-11zM353 228h6v6h-6zM642 355h24v6h-24z"/>
<path fill="#e6e6e6" d="M642 222h18v6h-18zM353 344h6v6h-6zM666 355h11v6h-11z"/>
<path fill="#e7e7e7" d="M631 222h11v6h-11zM689 355h17v6h-17z"/>
<path fill="#e8e8e8" d="M613 222h18v6h-18zM706 355h15v6h-15z"/>
<path fill="#e9e9e9" d="M602 222h11v6h-11z"/>
<path fill="#eaeaea" d="M590 222h12v6h-12zM463 344h6v6h-6z"/>
<path fill="#ebebeb" d="M579 222h11v6h-11zM243 338h6v6h-6zM683 350h6v5h-6z"/>
<path fill="#ececec" d="M561 222h6v6h-6z"/>
<path fill="#ededed" d="M544 222h17v6h-17zM683 228h6v6h-6z"/>
<path fill="#eeeeee" d="M532 222h12v6h-12z"/>
<path fill="#efefef" d="M515 222h17v6h-17zM573 228h6v6h-6z"/>
<path fill="#f0f0f0" d="M504 222h11v6h-11zM142 350h20v5h-20zM677 350h6v5h-6z"/>
<path fill="#f1f1f1" d="M486 222h18v6h-18zM243 234h6v6h-6zM162 350h17v5h-17z"/>
<path fill="#f2f2f2" d="M475 222h11v6h-11zM179 350h23v5h-23z"/>
<path fill="#f3f3f3" d="M457 222h6v6h-6zM469 222h6v6h-6zM677 228h6v6h-6zM202 350h24v5h-24z"/>
<path fill="#f4f4f4" d="M446 222h11v6h-11zM226 350h17v5h-17z"/>
<path fill="#f5f5f5" d="M434 222h12v6h-12zM249 350h17v5h-17z"/>
<path fill="#f6f6f6" d="M411 222h23v6h-23zM266 350h23v5h-23z"/>
<path fill="#f7f7f7" d="M388 222h23v6h-23zM289 350h18v5h-18zM567 350h6v5h-6z"/>
<path fill="#f8f8f8" d="M365 222h23v6h-23zM307 350h23v5h-23z"/>
<path fill="#f9f9f9" d="M341 222h12v6h-12zM359 222h6v6h-6zM330 350h23v5h-23z"/>
<path fill="#fafafa" d="M318 222h23v6h-23zM359 350h11v5h-11z"/>
<path fill="#fbfbfb" d="M295 222h23v6h-23zM463 234h6v6h-6zM370 350h24v5h-24z"/>
<path fill="#fcfcfc" d="M272 222h23v6h-23zM394 350h23v5h-23z"/>
<path fill="#fdfdfd" d="M249 222h23v6h-23zM417 350h23v5h-23z"/>
<path fill="#fefefe" d="M231 222h12v6h-12zM440 350h17v5h-17z"/>
<path fill="#ffffff" d="M142 222h89v6h-89zM142 228h101v6h-101zM249 228h104v6h-104zM359 228h104v6h-104zM469 228h104v6h-104zM579 228h98v6h-98zM689 228h32v6h-32zM142 234h101v6h-101zM249 234h214v6h-214zM469 234h252v6h-252zM142 240h579v5h-579zM142 245h579v6h-579zM142 251h579v6h-579zM142 257h579v6h-579zM142 263h579v6h-579zM142 269h579v5h-579zM142 274h579v6h-579zM142 280h579v6h-579zM142 286h579v6h-579zM142 292h579v5h-579zM142 297h579v6h-579zM142 303h579v6h-579zM142 309h579v6h-579zM142 315h579v6h-579zM142 321h579v5h-579zM142 326h579v6h-579zM142 332h579v6h-579zM142 338h101v6h-101zM249 338h472v6h-472zM142 344h101v6h-101zM249 344h104v6h-104zM359 344h104v6h-104zM469 344h252v6h-252zM457 350h6v5h-6zM469 350h98v5h-98zM579 350h98v5h-98zM689 350h32v5h-32z"/>
</g>
<g stroke="#262626" fill="none" stroke-linecap="butt">
<path stroke-width="2.0" d="M143.0 5.6499999999999995V584.05 M720.0 5.6499999999999995V584.05"/>
<path stroke-width="1.8" d="M143.0 6.55H720.0 M143.0 583.15H720.0"/>
<path stroke-width="1.8" d="M136.4 40.9H143.0 M720.0 40.9H726.6M136.4 156.25H143.0 M720.0 156.25H726.6M136.4 271.7H143.0 M720.0 271.7H726.6M136.4 387.0H143.0 M720.0 387.0H726.6M136.4 502.3H143.0 M720.0 502.3H726.6"/>
<path stroke-width="2.0" d="M143.0 583.15V590.05 M143.0 6.55V-1M431.4 583.15V590.05 M431.4 6.55V-1M720.0 583.15V590.05 M720.0 6.55V-1"/>
</g>
<text class="tk" transform="translate(121.0 57) scale(0.96 1)" text-anchor="end">620</text>
<text class="tk" transform="translate(121.0 172) scale(0.96 1)" text-anchor="end">640</text>
<text class="tk" transform="translate(121.0 287) scale(0.96 1)" text-anchor="end">660</text>
<text class="tk" transform="translate(121.0 403) scale(0.96 1)" text-anchor="end">680</text>
<text class="tk" transform="translate(121.0 518) scale(0.96 1)" text-anchor="end">700</text>
<text class="tk" transform="translate(141.80 644.0) scale(0.957 1)" text-anchor="middle">550</text>
<text class="tk" transform="translate(430.20 644.0) scale(0.957 1)" text-anchor="middle">600</text>
<text class="tk" transform="translate(718.80 644.0) scale(0.957 1)" text-anchor="middle">650</text>
<text transform="translate(0 692.10)" font-family='"Liberation Serif",serif' font-size="39.6" fill="#262626" stroke="#262626" stroke-width="0.35" style="font-kerning:none"><tspan x="254.06" y="0.00" textLength="109.39" lengthAdjust="spacingAndGlyphs">image</tspan> <tspan x="376.37" y="0.00" textLength="136.22" lengthAdjust="spacingAndGlyphs">column</tspan> <tspan x="529.57" y="3.40" textLength="9.57" lengthAdjust="spacingAndGlyphs" font-size="50">[</tspan><tspan x="538.87" y="0.00" textLength="57.78" lengthAdjust="spacingAndGlyphs">pix</tspan><tspan x="597.04" y="3.40" textLength="8.82" lengthAdjust="spacingAndGlyphs" font-size="50">]</tspan></text>
<text transform="translate(31.90 0) rotate(-90)" font-family='"Liberation Serif",serif' font-size="39.6" fill="#262626" stroke="#262626" stroke-width="0.35" style="font-kerning:none"><tspan x="-437.94" y="0.00" textLength="108.98" lengthAdjust="spacingAndGlyphs">image</tspan> <tspan x="-315.11" y="0.00" textLength="66.80" lengthAdjust="spacingAndGlyphs">row</tspan> <tspan x="-230.63" y="3.40" textLength="9.57" lengthAdjust="spacingAndGlyphs" font-size="50">[</tspan><tspan x="-221.33" y="0.00" textLength="57.88" lengthAdjust="spacingAndGlyphs">pix</tspan><tspan x="-163.01" y="3.40" textLength="9.35" lengthAdjust="spacingAndGlyphs" font-size="50">]</tspan></text>
<g stroke="#262626" fill="none" stroke-linecap="butt">
<path stroke-width="2.0" d="M982.0 5.6499999999999995V584.05 M1559.0 5.6499999999999995V584.05"/>
<path stroke-width="1.8" d="M982.0 6.55H1559.0 M982.0 583.15H1559.0"/>
<path stroke-width="1.8" d="M982.0 85.5H989.0 M1559.0 85.5H1552.0M982.0 190.1H989.0 M1559.0 190.1H1552.0M982.0 294.75H989.0 M1559.0 294.75H1552.0M982.0 399.4H989.0 M1559.0 399.4H1552.0M982.0 504.0H989.0 M1559.0 504.0H1552.0"/>
<path stroke-width="2.0" d="M982.0 583.15V576.15 M982.0 6.55V13.549999999999999M1126.25 583.15V576.15 M1126.25 6.55V13.549999999999999M1270.5 583.15V576.15 M1270.5 6.55V13.549999999999999M1414.75 583.15V576.15 M1414.75 6.55V13.549999999999999M1559.0 583.15V576.15 M1559.0 6.55V13.549999999999999"/>
</g>
<text class="tk" transform="translate(966.8 102) scale(0.957 1)" text-anchor="end">-10</text>
<text class="tk" transform="translate(966.8 206) scale(0.957 1)" text-anchor="end">-5</text>
<text class="tk" transform="translate(966.8 311) scale(0.957 1)" text-anchor="end">0</text>
<text class="tk" transform="translate(966.8 416) scale(0.957 1)" text-anchor="end">5</text>
<text class="tk" transform="translate(966.8 520) scale(0.957 1)" text-anchor="end">10</text>
<text class="tk" transform="translate(981.50 638.0) scale(0.966 1)" text-anchor="middle">0</text>
<text class="tk" transform="translate(1125.75 638.0) scale(0.966 1)" text-anchor="middle">2000</text>
<text class="tk" transform="translate(1270.00 638.0) scale(0.966 1)" text-anchor="middle">4000</text>
<text class="tk" transform="translate(1414.25 638.0) scale(0.966 1)" text-anchor="middle">6000</text>
<text class="tk" transform="translate(1558.50 638.0) scale(0.966 1)" text-anchor="middle">8000</text>
<text transform="translate(0 686.80)" font-family='"Liberation Serif",serif' font-size="39.6" fill="#262626" stroke="#262626" stroke-width="0.35" style="font-kerning:none"><tspan x="1087.78" y="0.00" textLength="159.30" lengthAdjust="spacingAndGlyphs">intensity</tspan> <tspan x="1264.87" y="3.40" textLength="9.57" lengthAdjust="spacingAndGlyphs" font-size="50">[</tspan><tspan x="1273.29" y="0.00" textLength="167.91" lengthAdjust="spacingAndGlyphs">arbitrary</tspan><tspan x="1441.83" y="3.40" textLength="8.90" lengthAdjust="spacingAndGlyphs" font-size="50">]</tspan></text>
<text transform="translate(886.20 0) rotate(-90)" font-family='"Liberation Serif",serif' font-size="39.6" fill="#262626" stroke="#262626" stroke-width="0.35" style="font-kerning:none"><tspan x="-486.89" y="0.00" textLength="81.91" lengthAdjust="spacingAndGlyphs">light</tspan> <tspan x="-388.88" y="0.00" textLength="94.15" lengthAdjust="spacingAndGlyphs">sheet</tspan> <tspan x="-279.81" y="0.00" textLength="68.54" lengthAdjust="spacingAndGlyphs">size</tspan> <tspan x="-195.40" y="3.40" textLength="9.42" lengthAdjust="spacingAndGlyphs" font-size="50">[</tspan><tspan x="-186.56" y="0.00" textLength="70.97" lengthAdjust="spacingAndGlyphs">mm</tspan><tspan x="-115.82" y="3.40" textLength="9.42" lengthAdjust="spacingAndGlyphs" font-size="50">]</tspan></text>
<path d="M982.1 225.96H1559.0" stroke="#000" stroke-width="1.8" stroke-dasharray="16.5 9.36" fill="none"/>
<path d="M982.1 358.52H1559.0" stroke="#000" stroke-width="1.8" stroke-dasharray="16.5 9.36" fill="none"/>
<path d="M1018.50 6.95 L1019.90 12.71 L1021.20 18.48 L1021.30 24.24 L1021.30 30.00 L1021.60 35.77 L1022.20 41.53 L1022.80 47.29 L1023.50 53.06 L1023.80 58.82 L1023.60 64.58 L1023.00 70.35 L1024.90 76.11 L1025.30 81.88 L1026.00 87.64 L1026.60 93.40 L1027.00 99.17 L1026.70 104.93 L1023.90 110.69 L1023.90 116.46 L1026.60 122.22 L1027.30 127.98 L1027.90 133.75 L1028.00 139.51 L1028.00 145.27 L1028.20 151.04 L1029.20 156.80 L1029.90 162.56 L1031.00 168.33 L1033.10 174.09 L1035.90 179.85 L1046.70 185.62 L1063.75 191.38 L1087.00 197.15 L1115.00 202.91 L1147.50 208.67 L1168.00 214.44 L1200.50 220.20 L1259.80 225.96 L1297.00 231.73 L1333.30 237.49 L1369.80 243.25 L1405.20 249.02 L1430.00 254.78 L1455.50 260.54 L1480.00 266.31 L1493.75 272.07 L1504.60 277.83 L1513.40 283.60 L1521.25 289.36 L1523.60 295.12 L1523.75 300.89 L1517.70 306.65 L1502.80 312.42 L1470.00 318.18 L1402.70 323.94 L1421.20 329.71 L1382.50 335.47 L1342.00 341.23 L1306.00 347.00 L1268.50 352.76 L1229.20 358.52 L1195.50 364.29 L1164.50 370.05 L1137.00 375.81 L1112.50 381.58 L1089.50 387.34 L1073.00 393.10 L1056.20 398.87 L1042.80 404.63 L1035.00 410.39 L1031.60 416.16 L1030.30 421.92 L1024.00 427.69 L1028.10 433.45 L1028.20 439.21 L1027.70 444.98 L1027.70 450.74 L1027.50 456.50 L1026.00 462.27 L1025.90 468.03 L1025.30 473.79 L1024.75 479.56 L1024.20 485.32 L1023.90 491.08 L1023.60 496.85 L1023.50 502.61 L1023.30 508.37 L1022.80 514.14 L1022.00 519.90 L1021.30 525.66 L1016.60 531.43 L1021.00 537.19 L1021.30 542.96 L1021.20 548.72 L1020.90 554.48 L1020.50 560.25 L1021.20 566.01 L1020.50 571.77 L1020.60 577.54 L1020.90 583.30" stroke="#000" stroke-width="1.85" fill="none" stroke-linejoin="round" stroke-linecap="butt"/>
<path d="M1513.95 300.89H1533.55 M1523.75 291.09V310.69 M1516.82 293.96L1530.68 307.82 M1516.82 307.82L1530.68 293.96" stroke="#000" stroke-width="1.8" fill="none"/>
<circle cx="1259.8" cy="225.96299999999997" r="9.7" stroke="#000" stroke-width="1.9" fill="none"/>
<circle cx="1229.2" cy="358.52349999999996" r="9.7" stroke="#000" stroke-width="1.9" fill="none"/>
<path d="M1103.5 238V358.4" stroke="#000" stroke-width="6.7" fill="none"/>
<path d="M1103.5 221.9 L1116.4 255.3 L1103.5 245.5 L1090.6 255.3Z" fill="#000"/>
<path d="M1103.5 360.7 L1116.4 327.2 L1103.5 337 L1090.6 327.2Z" fill="#000"/>
<text transform="translate(0 298.80)" font-family='"Liberation Serif",serif' font-size="38.6" fill="#000" stroke="#000" stroke-width="0.35" style="font-kerning:none"><tspan x="1111.67" y="0.00" textLength="32.64" lengthAdjust="spacingAndGlyphs" font-size="41.5">Δ</tspan><tspan x="1146.87" y="0.00" textLength="16.28" lengthAdjust="spacingAndGlyphs" font-style="italic">z</tspan> <tspan x="1175.89" y="3.90" textLength="31.87" lengthAdjust="spacingAndGlyphs" stroke="none">=</tspan> <tspan x="1219.47" y="0.00" textLength="50.30" lengthAdjust="spacingAndGlyphs" font-size="41">6.3</tspan> <tspan x="1285.10" y="3.40" textLength="8.53" lengthAdjust="spacingAndGlyphs" font-size="47.5">[</tspan><tspan x="1293.12" y="0.00" textLength="65.24" lengthAdjust="spacingAndGlyphs">mm</tspan><tspan x="1357.86" y="3.40" textLength="8.67" lengthAdjust="spacingAndGlyphs" font-size="47.5">]</tspan></text>
<rect x="1198" y="32.2" width="336.6" height="104" fill="#fff" stroke="#262626" stroke-width="1.7"/>
<path d="M1246.20 60.20H1265.80 M1256.00 50.40V70.00 M1249.07 53.27L1262.93 67.13 M1249.07 67.13L1262.93 53.27" stroke="#000" stroke-width="1.8" fill="none"/>
<circle cx="1256" cy="107.7" r="9.9" stroke="#000" stroke-width="1.9" fill="none"/>
<text transform="translate(0 70.50)" font-family='"Liberation Serif",serif' font-size="38.6" fill="#000" stroke="#000" stroke-width="0.35" style="font-kerning:none"><tspan x="1312.59" y="0.00" textLength="22.74" lengthAdjust="spacingAndGlyphs" font-style="italic" font-size="39.5">ϕ</tspan><tspan x="1334.64" y="5.60" textLength="53.39" lengthAdjust="spacingAndGlyphs" font-style="italic" font-size="28">max</tspan> <tspan x="1402.56" y="3.60" textLength="32.12" lengthAdjust="spacingAndGlyphs" stroke="none">=</tspan> <tspan x="1446.03" y="0.00" textLength="77.91" lengthAdjust="spacingAndGlyphs" font-size="41.5">7511</tspan></text>
<text transform="translate(0 117.80)" font-family='"Liberation Serif",serif' font-size="38.6" fill="#000" stroke="#000" stroke-width="0.35" style="font-kerning:none"><tspan x="1311.38" y="0.00" textLength="49.77" lengthAdjust="spacingAndGlyphs" font-size="41.5">0.5</tspan> <tspan x="1368.45" y="2.70" textLength="13.81" lengthAdjust="spacingAndGlyphs">·</tspan> <tspan x="1390.06" y="0.00" textLength="23.51" lengthAdjust="spacingAndGlyphs" font-style="italic" font-size="39.5">ϕ</tspan><tspan x="1412.45" y="5.60" textLength="53.19" lengthAdjust="spacingAndGlyphs" font-style="italic" font-size="28">max</tspan></text>
</svg>
</body></html>
